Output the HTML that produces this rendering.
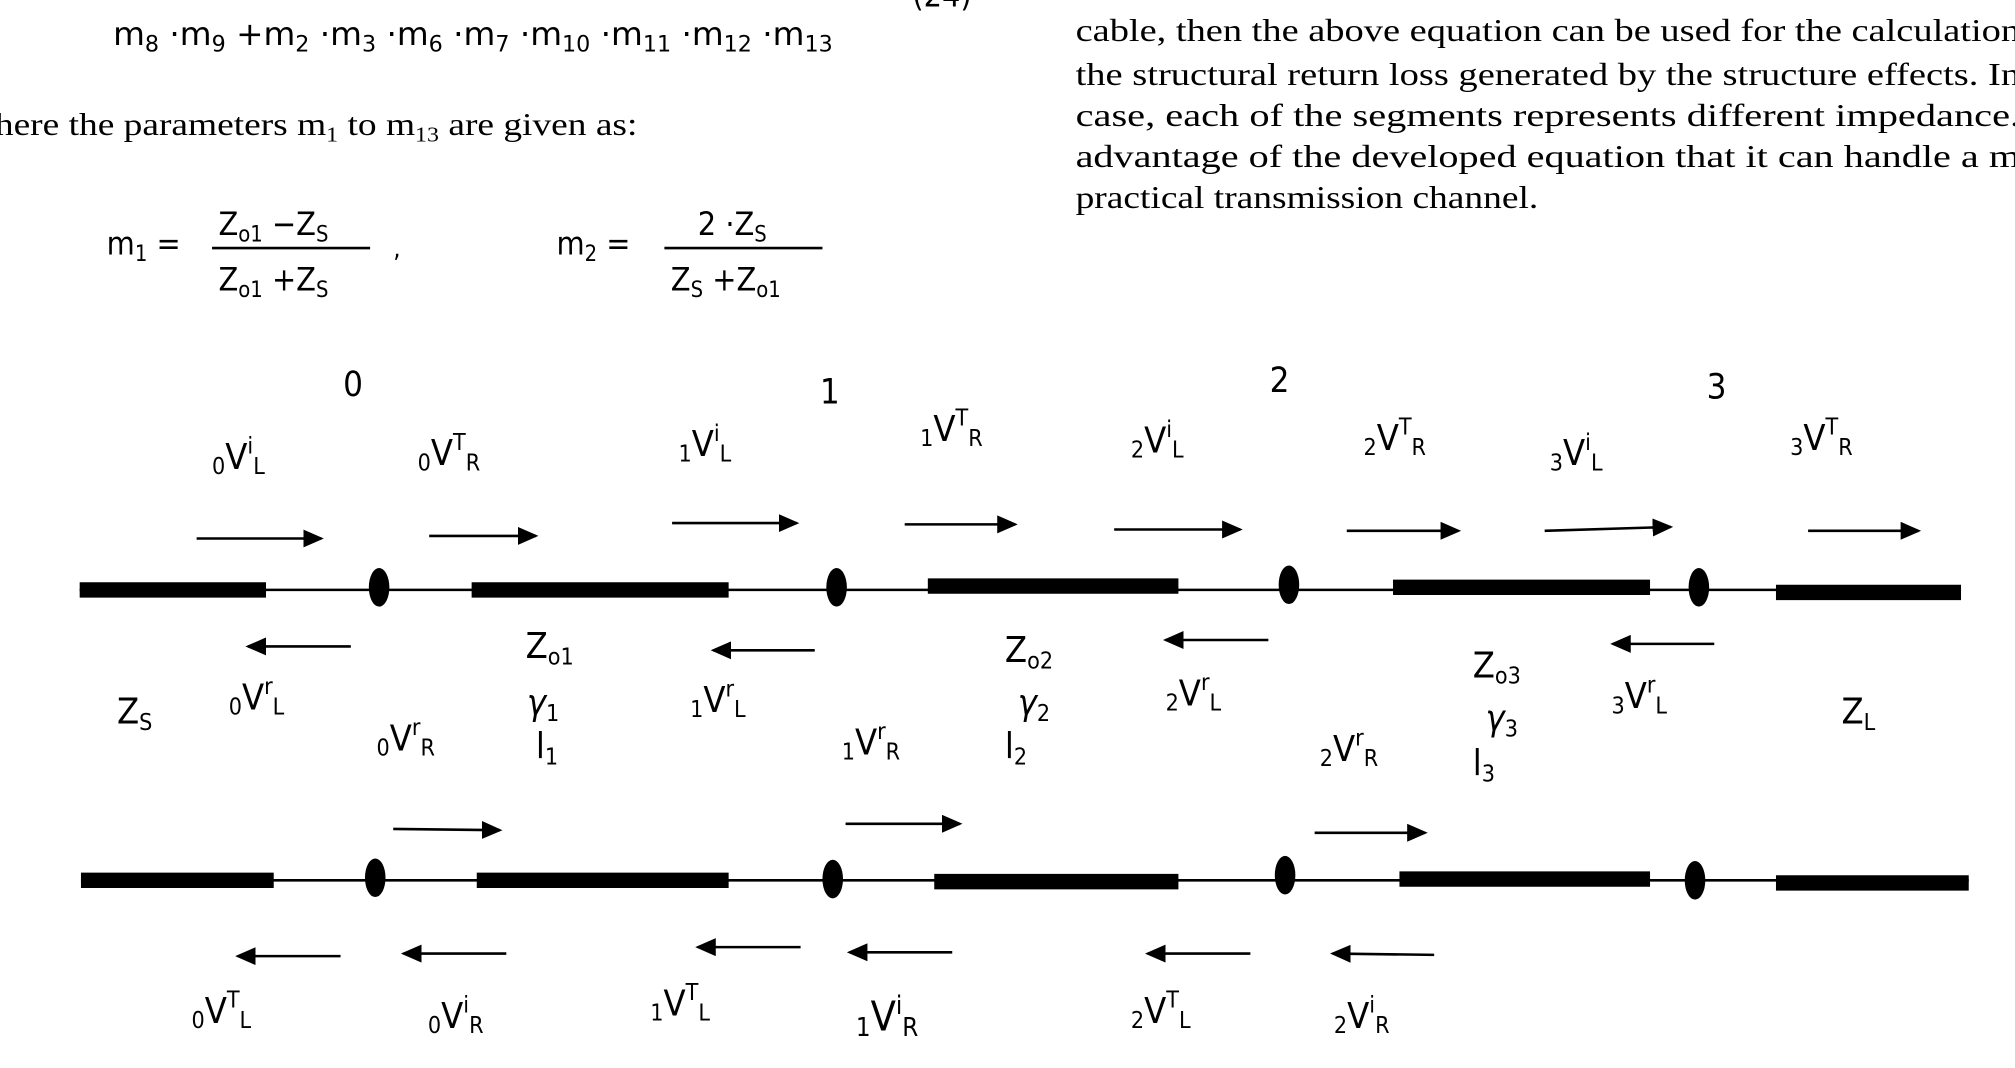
<!DOCTYPE html>
<html><head><meta charset="utf-8"><style>
html,body{margin:0;padding:0;background:#fff;}
svg{display:block;}
text{font-family:"DejaVu Sans Condensed","DejaVu Sans","Liberation Sans",sans-serif;fill:#000;}
.s{font-family:"Liberation Serif",serif;}
</style></head><body>
<svg width="2015" height="1068" viewBox="0 0 1568 831" xmlns="http://www.w3.org/2000/svg">
<defs><marker id="a" markerWidth="16" markerHeight="14" refX="14" refY="7" orient="auto" markerUnits="userSpaceOnUse"><path d="M0,0 L16,7 L0,14 z" fill="#000"/></marker></defs>
<text x="88" y="35" font-size="25" textLength="560" lengthAdjust="spacingAndGlyphs">m<tspan font-size="17" dy="5">8</tspan><tspan dy="-5"> ·m</tspan><tspan font-size="17" dy="5">9</tspan><tspan dy="-5"> +m</tspan><tspan font-size="17" dy="5">2</tspan><tspan dy="-5"> ·m</tspan><tspan font-size="17" dy="5">3</tspan><tspan dy="-5"> ·m</tspan><tspan font-size="17" dy="5">6</tspan><tspan dy="-5"> ·m</tspan><tspan font-size="17" dy="5">7</tspan><tspan dy="-5"> ·m</tspan><tspan font-size="17" dy="5">10</tspan><tspan dy="-5"> ·m</tspan><tspan font-size="17" dy="5">11</tspan><tspan dy="-5"> ·m</tspan><tspan font-size="17" dy="5">12</tspan><tspan dy="-5"> ·m</tspan><tspan font-size="17" dy="5">13</tspan></text>
<text x="710" y="5" font-size="25">(24)</text>
<text class="s" x="-4" y="105" font-size="25" textLength="500" lengthAdjust="spacingAndGlyphs">here the parameters m<tspan font-size="16" dy="5">1</tspan><tspan dy="-5"> to m</tspan><tspan font-size="16" dy="5">13</tspan><tspan dy="-5"> are given as:</tspan></text>
<text x="83" y="198" font-size="25">m<tspan font-size="17" dy="5">1</tspan><tspan dy="-5"> =</tspan></text>
<text x="170" y="183" font-size="25">Z<tspan font-size="17" dy="5">o1</tspan><tspan dy="-5"> −Z</tspan><tspan font-size="17" dy="5">S</tspan></text>
<line x1="165" y1="193" x2="288" y2="193" stroke="#000" stroke-width="2"/>
<text x="170" y="226" font-size="25">Z<tspan font-size="17" dy="5">o1</tspan><tspan dy="-5"> +Z</tspan><tspan font-size="17" dy="5">S</tspan></text>
<text x="306" y="200" font-size="20">,</text>
<text x="433" y="198" font-size="25">m<tspan font-size="17" dy="5">2</tspan><tspan dy="-5"> =</tspan></text>
<text x="543" y="183" font-size="25">2 ·Z<tspan font-size="17" dy="5">S</tspan></text>
<line x1="517" y1="193" x2="640" y2="193" stroke="#000" stroke-width="2"/>
<text x="522" y="226" font-size="25">Z<tspan font-size="17" dy="5">S</tspan><tspan dy="-5"> +Z</tspan><tspan font-size="17" dy="5">o1</tspan></text>
<g class="s" font-size="25">
<text x="837" y="32" class="s" textLength="735" lengthAdjust="spacingAndGlyphs">cable, then the above equation can be used for the calculation</text>
<text x="837" y="66" class="s" textLength="735" lengthAdjust="spacingAndGlyphs">the structural return loss generated by the structure effects. In</text>
<text x="837" y="98" class="s" textLength="735" lengthAdjust="spacingAndGlyphs">case, each of the segments represents different impedance.</text>
<text x="837" y="130" class="s" textLength="735" lengthAdjust="spacingAndGlyphs">advantage of the developed equation that it can handle a m</text>
<text x="837" y="162" class="s" textLength="360" lengthAdjust="spacingAndGlyphs">practical transmission channel.</text>
</g>
<g stroke="#000">
<line x1="62" y1="459" x2="1526" y2="459" stroke-width="2"/>
<g stroke-width="12"><line x1="62" y1="459" x2="207" y2="459"/><line x1="367" y1="459" x2="567" y2="459"/><line x1="722" y1="456" x2="917" y2="456"/><line x1="1084" y1="457" x2="1284" y2="457"/><line x1="1382" y1="461" x2="1526" y2="461"/></g>
<line x1="63" y1="685" x2="1532" y2="685" stroke-width="2"/>
<g stroke-width="12"><line x1="63" y1="685" x2="213" y2="685"/><line x1="371" y1="685" x2="567" y2="685"/><line x1="727" y1="686" x2="917" y2="686"/><line x1="1089" y1="684" x2="1284" y2="684"/><line x1="1382" y1="687" x2="1532" y2="687"/></g>
</g>
<g fill="#000">
<ellipse cx="295" cy="457" rx="8" ry="15"/><ellipse cx="651" cy="457" rx="8" ry="15"/><ellipse cx="1003" cy="455" rx="8" ry="15"/><ellipse cx="1322" cy="457" rx="8" ry="15"/>
<ellipse cx="292" cy="683" rx="8" ry="15"/><ellipse cx="648" cy="684" rx="8" ry="15"/><ellipse cx="1000" cy="681" rx="8" ry="15"/><ellipse cx="1319" cy="685" rx="8" ry="15"/>
</g>
<g stroke="#000" stroke-width="2" marker-end="url(#a)">
<line x1="153" y1="419" x2="250" y2="419"/><line x1="334" y1="417" x2="417" y2="417"/><line x1="523" y1="407" x2="620" y2="407"/><line x1="704" y1="408" x2="790" y2="408"/><line x1="867" y1="412" x2="965" y2="412"/><line x1="1048" y1="413" x2="1135" y2="413"/><line x1="1202" y1="413" x2="1300" y2="410"/><line x1="1407" y1="413" x2="1493" y2="413"/>
<line x1="273" y1="503" x2="193" y2="503"/><line x1="634" y1="506" x2="555" y2="506"/><line x1="987" y1="498" x2="907" y2="498"/><line x1="1334" y1="501" x2="1255" y2="501"/>
<line x1="306" y1="645" x2="389" y2="646"/><line x1="658" y1="641" x2="747" y2="641"/><line x1="1023" y1="648" x2="1109" y2="648"/>
<line x1="265" y1="744" x2="185" y2="744"/><line x1="394" y1="742" x2="314" y2="742"/><line x1="623" y1="737" x2="543" y2="737"/><line x1="741" y1="741" x2="661" y2="741"/><line x1="973" y1="742" x2="893" y2="742"/><line x1="1116" y1="743" x2="1037" y2="742"/>
</g>
<g font-size="27">
<text x="267" y="308">0</text><text x="638" y="314">1</text><text x="988" y="305">2</text><text x="1328" y="310">3</text>
</g>
<g font-size="28">
<text x="165" y="365"><tspan font-size="18" dy="4">0</tspan><tspan dy="-4">V</tspan><tspan font-size="18" dy="-12">i</tspan><tspan font-size="18" dy="16">L</tspan></text>
<text x="325" y="362"><tspan font-size="18" dy="4">0</tspan><tspan dy="-4">V</tspan><tspan font-size="18" dy="-12">T</tspan><tspan font-size="18" dy="16">R</tspan></text>
<text x="528" y="355"><tspan font-size="18" dy="4">1</tspan><tspan dy="-4">V</tspan><tspan font-size="18" dy="-12">i</tspan><tspan font-size="18" dy="16">L</tspan></text>
<text x="716" y="343"><tspan font-size="18" dy="4">1</tspan><tspan dy="-4">V</tspan><tspan font-size="18" dy="-12">T</tspan><tspan font-size="18" dy="16">R</tspan></text>
<text x="880" y="352"><tspan font-size="18" dy="4">2</tspan><tspan dy="-4">V</tspan><tspan font-size="18" dy="-12">i</tspan><tspan font-size="18" dy="16">L</tspan></text>
<text x="1061" y="350"><tspan font-size="18" dy="4">2</tspan><tspan dy="-4">V</tspan><tspan font-size="18" dy="-12">T</tspan><tspan font-size="18" dy="16">R</tspan></text>
<text x="1206" y="362"><tspan font-size="18" dy="4">3</tspan><tspan dy="-4">V</tspan><tspan font-size="18" dy="-12">i</tspan><tspan font-size="18" dy="16">L</tspan></text>
<text x="1393" y="350"><tspan font-size="18" dy="4">3</tspan><tspan dy="-4">V</tspan><tspan font-size="18" dy="-12">T</tspan><tspan font-size="18" dy="16">R</tspan></text>
<text x="178" y="552"><tspan font-size="18" dy="4">0</tspan><tspan dy="-4">V</tspan><tspan font-size="18" dy="-12">r</tspan><tspan font-size="18" dy="16">L</tspan></text>
<text x="293" y="584"><tspan font-size="18" dy="4">0</tspan><tspan dy="-4">V</tspan><tspan font-size="18" dy="-12">r</tspan><tspan font-size="18" dy="16">R</tspan></text>
<text x="537" y="554"><tspan font-size="18" dy="4">1</tspan><tspan dy="-4">V</tspan><tspan font-size="18" dy="-12">r</tspan><tspan font-size="18" dy="16">L</tspan></text>
<text x="655" y="587"><tspan font-size="18" dy="4">1</tspan><tspan dy="-4">V</tspan><tspan font-size="18" dy="-12">r</tspan><tspan font-size="18" dy="16">R</tspan></text>
<text x="907" y="549"><tspan font-size="18" dy="4">2</tspan><tspan dy="-4">V</tspan><tspan font-size="18" dy="-12">r</tspan><tspan font-size="18" dy="16">L</tspan></text>
<text x="1027" y="592"><tspan font-size="18" dy="4">2</tspan><tspan dy="-4">V</tspan><tspan font-size="18" dy="-12">r</tspan><tspan font-size="18" dy="16">R</tspan></text>
<text x="1254" y="551"><tspan font-size="18" dy="4">3</tspan><tspan dy="-4">V</tspan><tspan font-size="18" dy="-12">r</tspan><tspan font-size="18" dy="16">L</tspan></text>
<text x="149" y="796"><tspan font-size="18" dy="4">0</tspan><tspan dy="-4">V</tspan><tspan font-size="18" dy="-12">T</tspan><tspan font-size="18" dy="16">L</tspan></text>
<text x="333" y="800"><tspan font-size="18" dy="4">0</tspan><tspan dy="-4">V</tspan><tspan font-size="18" dy="-12">i</tspan><tspan font-size="18" dy="16">R</tspan></text>
<text x="506" y="790"><tspan font-size="18" dy="4">1</tspan><tspan dy="-4">V</tspan><tspan font-size="18" dy="-12">T</tspan><tspan font-size="18" dy="16">L</tspan></text>
<text x="666" y="802" font-size="32"><tspan font-size="20" dy="4">1</tspan><tspan dy="-4">V</tspan><tspan font-size="20" dy="-13">i</tspan><tspan font-size="20" dy="17">R</tspan></text>
<text x="880" y="796"><tspan font-size="18" dy="4">2</tspan><tspan dy="-4">V</tspan><tspan font-size="18" dy="-12">T</tspan><tspan font-size="18" dy="16">L</tspan></text>
<text x="1038" y="800"><tspan font-size="18" dy="4">2</tspan><tspan dy="-4">V</tspan><tspan font-size="18" dy="-12">i</tspan><tspan font-size="18" dy="16">R</tspan></text>
</g>
<g font-size="28">
<text x="91" y="563">Z<tspan font-size="18" dy="5">S</tspan></text>
<text x="1433" y="563">Z<tspan font-size="18" dy="5">L</tspan></text>
<text x="409" y="512">Z<tspan font-size="18" dy="5">o1</tspan></text>
<text x="410" y="556" font-style="italic">γ<tspan font-size="18" dy="5" font-style="normal">1</tspan></text>
<text x="417" y="590">l<tspan font-size="18" dy="5">1</tspan></text>
<text x="782" y="515">Z<tspan font-size="18" dy="5">o2</tspan></text>
<text x="792" y="556" font-style="italic">γ<tspan font-size="18" dy="5" font-style="normal">2</tspan></text>
<text x="782" y="590">l<tspan font-size="18" dy="5">2</tspan></text>
<text x="1146" y="527">Z<tspan font-size="18" dy="5">o3</tspan></text>
<text x="1156" y="568" font-style="italic">γ<tspan font-size="18" dy="5" font-style="normal">3</tspan></text>
<text x="1146" y="603">l<tspan font-size="18" dy="5">3</tspan></text>
</g>
</svg>
</body></html>
